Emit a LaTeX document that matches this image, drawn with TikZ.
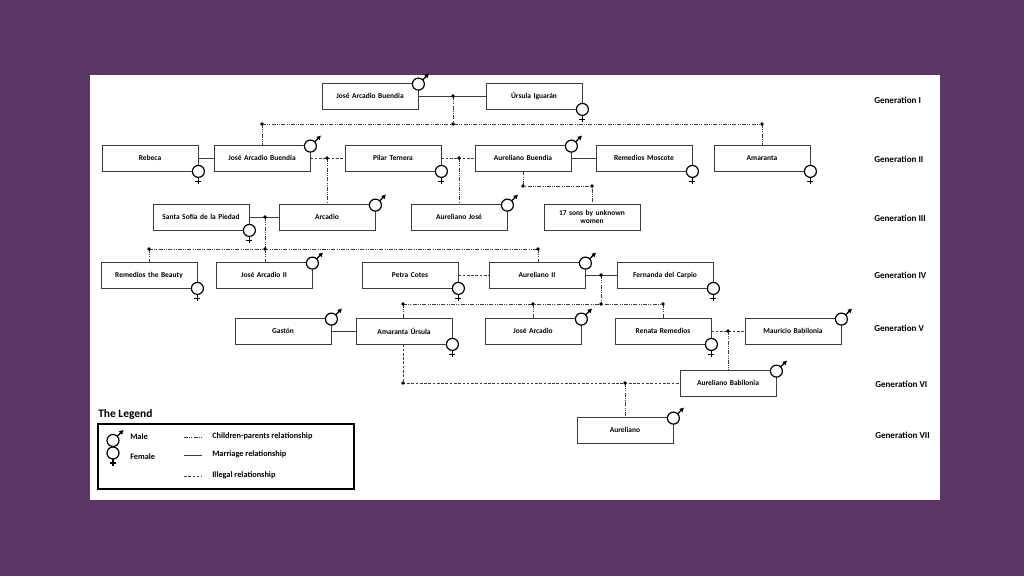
\documentclass[tikz,border=0pt]{standalone}
\usepackage{fontspec}
\setmainfont{Carlito}
\usetikzlibrary{arrows.meta}

\definecolor{bgpurple}{RGB}{91,55,101}
\definecolor{linegray}{RGB}{60,60,60}

\tikzset{
  person/.style={draw=linegray, line width=0.6pt, fill=white, minimum width=72pt, minimum height=19.5pt,
    inner sep=1pt, text width=66pt, align=center, font=\bfseries\fontsize{5.6}{6.4}\selectfont},
  child/.style={draw=linegray, line width=0.5pt, dash pattern={on 3pt off 1pt on 0.6pt off 1pt on 0.6pt off 1pt}},
  marriage/.style={draw=linegray, line width=0.6pt},
  illegal/.style={draw=linegray, line width=0.5pt, dash pattern={on 2pt off 1.2pt}},
  gen/.style={font=\bfseries\fontsize{6.8}{8}\selectfont, anchor=west, inner sep=0pt},
  male/.pic={\draw[line width=0.9pt, fill=white] (0,-1.5) circle (6);
    \draw[line width=0.9pt, -{Triangle[length=3.2pt,width=3.2pt]}] (4.2,2.7) -- (10.5,9);},
  female/.pic={\draw[line width=0.9pt, fill=white] (0,0) circle (6);
    \draw[line width=0.9pt] (0,-6) -- (0,-13) (-3,-10) -- (3,-10);}
}

\begin{document}
\begin{tikzpicture}[x=0.75pt,y=0.75pt,yscale=-1]
% background and panel
\fill[bgpurple] (0,0) rectangle (1024,576);
\fill[white] (90,75) rectangle (940,500);
\useasboundingbox (0,0) rectangle (1024,576);

% generation I
\node[person] (jab1) at (370,96) {José Arcadio Buendía};
\node[person] (ursula) at (534,96) {Úrsula Iguarán};
% generation II
\node[person] (rebeca) at (150,158) {Rebeca};
\node[person] (jab2) at (262,158) {José Arcadio Buendía};
\node[person] (pilar) at (393,158) {Pilar Ternera};
\node[person] (aurb) at (523,158) {Aureliano Buendía};
\node[person] (remm) at (644,158) {Remedios Moscote};
\node[person] (amaranta) at (762,158) {Amaranta};
% generation III
\node[person] (sofia) at (201,217) {Santa Sofía de la Piedad};
\node[person] (arcadio) at (327,217) {Arcadio};
\node[person] (aurjose) at (459,217) {Aureliano José};
\node[person] (sons) at (592,217) {17 sons by unknown\\women};
% generation IV
\node[person] (remb) at (149,275) {Remedios the Beauty};
\node[person] (ja2) at (264,275) {José Arcadio II};
\node[person] (petra) at (410,275) {Petra Cotes};
\node[person] (aur2) at (537,275) {Aureliano II};
\node[person] (fernanda) at (665,275) {Fernanda del Carpio};
% generation V
\node[person] (gaston) at (283,331) {Gastón};
\node[person] (amu) at (404,331) {Amaranta Úrsula};
\node[person] (ja) at (533,331) {José Arcadio};
\node[person] (renata) at (663,331) {Renata Remedios};
\node[person] (mauricio) at (793,331) {Mauricio Babilonia};
% generation VI, VII
\node[person] (aurbab) at (728,383) {Aureliano Babilonia};
\node[person] (aur) at (625,430) {Aureliano};

% gender marks
\foreach \n in {jab1,jab2,aurb,arcadio,aurjose,ja2,aur2,gaston,ja,mauricio,aurbab,aur}
  \pic at (\n.north east) {male};
\foreach \n in {ursula,rebeca,pilar,remm,amaranta,sofia,remb,petra,fernanda,amu,renata}
  \pic at (\n.south east) {female};

% junction points
\coordinate (m1) at (453,96);
\coordinate (c1) at (453,124);
\coordinate (c1l) at (262,124);
\coordinate (c1r) at (762,124);
\coordinate (i1) at (327,158);
\coordinate (i2) at (459,158);
\coordinate (s1) at (523,186);
\coordinate (s2) at (592,186);
\coordinate (m2) at (265,217);
\coordinate (c2) at (265,249);
\coordinate (c2l) at (149,249);
\coordinate (c2r) at (538,249);
\coordinate (m3) at (601,275);
\coordinate (c3) at (601,304);
\coordinate (c3l) at (403,304);
\coordinate (c3m) at (533,304);
\coordinate (c3r) at (663,304);
\coordinate (i3) at (728,331);
\coordinate (i4) at (403,383);
\coordinate (c4) at (625,383);

% marriages
\draw[marriage] (jab1) -- (ursula);
\draw[marriage] (rebeca) -- (jab2);
\draw[marriage] (aurb) -- (remm);
\draw[marriage] (sofia) -- (arcadio);
\draw[marriage] (aur2) -- (fernanda);
\draw[marriage] (gaston) -- (amu);

% illegal relationships
\draw[illegal] (jab2) -- (pilar);
\draw[illegal] (pilar) -- (aurb);
\draw[illegal] (petra) -- (aur2);
\draw[illegal] (renata) -- (mauricio);
\draw[illegal] (amu.south -| i4) -- (i4) -- (aurbab.west |- i4);

% children
\draw[child] (m1) -- (c1);
\draw[child] (c1l) -- (c1r);
\draw[child] (c1l) -- (jab2.north -| c1l);
\draw[child] (c1r) -- (amaranta.north -| c1r);
\draw[child] (i1) -- (arcadio.north -| i1);
\draw[child] (i2) -- (aurjose.north -| i2);
\draw[child] (aurb.south -| s1) -- (s1) -- (s2) -- (sons.north -| s2);
\draw[child] (m2) -- (c2);
\draw[child] (c2l) -- (c2r);
\draw[child] (c2l) -- (remb.north -| c2l);
\draw[child] (c2) -- (ja2.north -| c2);
\draw[child] (c2r) -- (aur2.north -| c2r);
\draw[child] (m3) -- (c3);
\draw[child] (c3l) -- (c3r);
\draw[child] (c3l) -- (amu.north -| c3l);
\draw[child] (c3m) -- (ja.north -| c3m);
\draw[child] (c3r) -- (renata.north -| c3r);
\draw[child] (i3) -- (aurbab.north -| i3);
\draw[child] (c4) -- (aur.north -| c4);

% dots
\foreach \c in {m1,c1,c1l,c1r,i1,i2,s1,s2,m2,c2,c2l,c2r,m3,c3,c3l,c3m,c3r,i3,i4,c4}
  \fill (\c) circle (1.8);

% generations
\node[gen] (g1) at (874,100) {Generation I};
\node[gen] (g2) at (874,159) {Generation II};
\node[gen] (g3) at (874,218) {Generation III};
\node[gen] (g4) at (874,275) {Generation IV};
\node[gen] (g5) at (874,328) {Generation V};
\node[gen] (g6) at (875,384) {Generation VI};
\node[gen] (g7) at (875,435) {Generation VII};

% legend
\node[anchor=west, inner sep=0pt, font=\bfseries\fontsize{8.6}{10}\selectfont] (legtitle) at (98,414) {The Legend};
\draw[line width=1.3pt] (98,424) rectangle (354,489);
\pic at (113,439) {male};
\pic at (113,453) {female};
\node[gen, font=\bfseries\fontsize{6.2}{7}\selectfont] (lmale) at (130,437) {Male};
\node[gen, font=\bfseries\fontsize{6.2}{7}\selectfont] (lfemale) at (130,457) {Female};
\coordinate (l1a) at (184,437); \coordinate (l1b) at (202,437);
\coordinate (l2a) at (184,455); \coordinate (l2b) at (202,455);
\coordinate (l3a) at (184,476); \coordinate (l3b) at (202,476);
\draw[child] (l1a) -- (l1b);
\draw[marriage] (l2a) -- (l2b);
\draw[illegal] (l3a) -- (l3b);
\node[gen, font=\bfseries\fontsize{6.2}{7}\selectfont] (lt1) at (212,436) {Children-parents relationship};
\node[gen, font=\bfseries\fontsize{6.2}{7}\selectfont] (lt2) at (212,454) {Marriage relationship};
\node[gen, font=\bfseries\fontsize{6.2}{7}\selectfont] (lt3) at (212,475) {Illegal relationship};
\end{tikzpicture}
\end{document}
